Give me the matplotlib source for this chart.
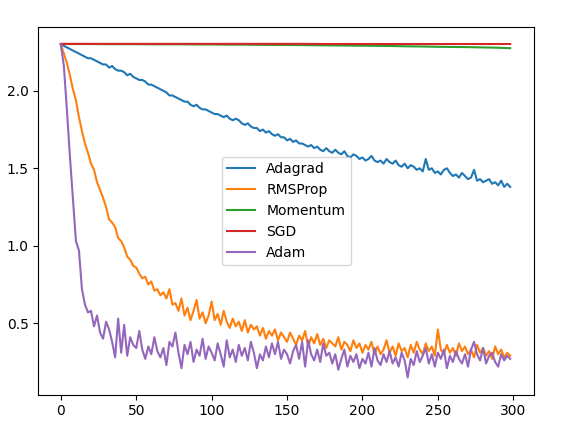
import numpy as np
import matplotlib
matplotlib.use("Agg")
import matplotlib.pyplot as plt

# training loss, every 2nd step (0..298)
adagrad = [
    2.30, 2.29, 2.28, 2.27, 2.26, 2.25, 2.24, 2.23, 2.22, 2.21,
    2.21, 2.20, 2.19, 2.18, 2.17, 2.17, 2.15, 2.16, 2.14, 2.13,
    2.13, 2.12, 2.10, 2.11, 2.09, 2.08, 2.07, 2.07, 2.06, 2.04,
    2.04, 2.03, 2.02, 2.01, 2.00, 1.99, 1.97, 1.97, 1.96, 1.95,
    1.94, 1.93, 1.93, 1.91, 1.90, 1.91, 1.89, 1.88, 1.88, 1.87,
    1.86, 1.85, 1.85, 1.84, 1.83, 1.84, 1.82, 1.81, 1.82, 1.81,
    1.79, 1.78, 1.79, 1.77, 1.76, 1.76, 1.74, 1.75, 1.73, 1.74,
    1.72, 1.71, 1.72, 1.70, 1.70, 1.68, 1.69, 1.67, 1.68, 1.66,
    1.66, 1.65, 1.64, 1.65, 1.63, 1.64, 1.62, 1.61, 1.63, 1.61,
    1.60, 1.62, 1.60, 1.59, 1.61, 1.58, 1.57, 1.59, 1.58, 1.56,
    1.57, 1.55, 1.56, 1.58, 1.55, 1.54, 1.55, 1.53, 1.56, 1.54,
    1.53, 1.55, 1.52, 1.51, 1.53, 1.50, 1.52, 1.51, 1.49, 1.50,
    1.48, 1.56, 1.49, 1.50, 1.47, 1.48, 1.46, 1.49, 1.50, 1.47,
    1.45, 1.46, 1.44, 1.47, 1.45, 1.43, 1.44, 1.49, 1.42, 1.43,
    1.41, 1.42, 1.43, 1.40, 1.41, 1.39, 1.42, 1.38, 1.40, 1.38,
]
rmsprop = [
    2.30, 2.24, 2.18, 2.10, 2.01, 1.94, 1.83, 1.74, 1.66, 1.60,
    1.53, 1.49, 1.41, 1.36, 1.31, 1.25, 1.17, 1.15, 1.12, 1.05,
    1.03, 0.99, 0.93, 0.91, 0.87, 0.86, 0.82, 0.79, 0.80, 0.75,
    0.77, 0.71, 0.72, 0.68, 0.70, 0.66, 0.72, 0.62, 0.63, 0.58,
    0.66, 0.55, 0.60, 0.52, 0.58, 0.65, 0.53, 0.57, 0.50, 0.55,
    0.64, 0.52, 0.56, 0.49, 0.58, 0.51, 0.47, 0.53, 0.48, 0.51,
    0.45, 0.52, 0.44, 0.49, 0.46, 0.48, 0.42, 0.47, 0.40, 0.45,
    0.42, 0.46, 0.39, 0.44, 0.41, 0.38, 0.44, 0.40, 0.36, 0.42,
    0.39, 0.45, 0.35, 0.41, 0.37, 0.43, 0.36, 0.40, 0.34, 0.39,
    0.37, 0.35, 0.41, 0.33, 0.38, 0.36, 0.32, 0.39, 0.34, 0.37,
    0.31, 0.36, 0.33, 0.38, 0.30, 0.35, 0.30, 0.33, 0.39, 0.31,
    0.35, 0.29, 0.37, 0.32, 0.34, 0.28, 0.36, 0.31, 0.38, 0.33,
    0.30, 0.37, 0.32, 0.35, 0.29, 0.46, 0.33, 0.30, 0.36, 0.31,
    0.34, 0.29, 0.37, 0.32, 0.35, 0.30, 0.33, 0.28, 0.36, 0.31,
    0.34, 0.29, 0.32, 0.27, 0.35, 0.30, 0.33, 0.28, 0.31, 0.29,
]
adam = [
    2.30, 2.16, 1.88, 1.58, 1.30, 1.03, 0.97, 0.72, 0.62, 0.57,
    0.58, 0.48, 0.55, 0.44, 0.40, 0.51, 0.46, 0.38, 0.28, 0.53,
    0.31, 0.49, 0.29, 0.41, 0.36, 0.34, 0.45, 0.33, 0.27, 0.35,
    0.30, 0.41, 0.32, 0.28, 0.34, 0.23, 0.38, 0.35, 0.44, 0.31,
    0.21, 0.36, 0.30, 0.38, 0.25, 0.33, 0.29, 0.40, 0.27, 0.35,
    0.31, 0.26, 0.37, 0.30, 0.22, 0.39, 0.28, 0.33, 0.25, 0.36,
    0.29, 0.34, 0.26, 0.38, 0.31, 0.21, 0.30, 0.26, 0.35, 0.28,
    0.37, 0.30, 0.38, 0.27, 0.33, 0.30, 0.24, 0.32, 0.36, 0.27,
    0.38, 0.22, 0.39, 0.30, 0.26, 0.33, 0.25, 0.37, 0.29, 0.31,
    0.24, 0.30, 0.20, 0.27, 0.33, 0.22, 0.29, 0.25, 0.30, 0.21,
    0.27, 0.24, 0.31, 0.22, 0.34, 0.26, 0.23, 0.30, 0.25, 0.32,
    0.24, 0.28, 0.22, 0.31, 0.26, 0.15, 0.27, 0.23, 0.32, 0.25,
    0.29, 0.34, 0.24, 0.30, 0.22, 0.31, 0.27, 0.33, 0.21, 0.29,
    0.25, 0.32, 0.27, 0.24, 0.30, 0.22, 0.33, 0.38, 0.30, 0.26,
    0.34, 0.24, 0.29, 0.31, 0.25, 0.22, 0.30, 0.26, 0.29, 0.27,
]
# the two flat curves, every 10th step plus the last logged one
momentum = [
    2.302, 2.302, 2.302, 2.301, 2.301, 2.301, 2.300, 2.300, 2.300, 2.299,
    2.299, 2.298, 2.298, 2.297, 2.296, 2.296, 2.295, 2.294, 2.293, 2.292,
    2.291, 2.290, 2.289, 2.287, 2.286, 2.284, 2.283, 2.282, 2.280, 2.278,
    2.275,
]
sgd = [
    2.303, 2.303, 2.303, 2.303, 2.303, 2.303, 2.303, 2.303, 2.303, 2.303,
    2.303, 2.303, 2.303, 2.303, 2.303, 2.303, 2.303, 2.302, 2.302, 2.302,
    2.302, 2.302, 2.302, 2.302, 2.302, 2.302, 2.302, 2.302, 2.302, 2.302,
    2.302,
]

steps = np.arange(0, 300, 2)
steps_flat = np.append(np.arange(0, 300, 10), 298)

fig = plt.figure(figsize=(5.64, 4.33), dpi=100)
ax = fig.add_axes([0.0679, 0.0885, 0.8794, 0.8485])

ax.plot(steps, adagrad, label="Adagrad")
ax.plot(steps, rmsprop, label="RMSProp")
ax.plot(steps_flat, momentum, label="Momentum")
ax.plot(steps_flat, sgd, label="SGD")
ax.plot(steps, adam, label="Adam")

ax.set_xlim(-14.95, 313.95)
ax.set_ylim(0.039, 2.41)
ax.set_yticks([0.5, 1.0, 1.5, 2.0])
ax.legend(loc="center")

fig.savefig("out.png", dpi=100)
